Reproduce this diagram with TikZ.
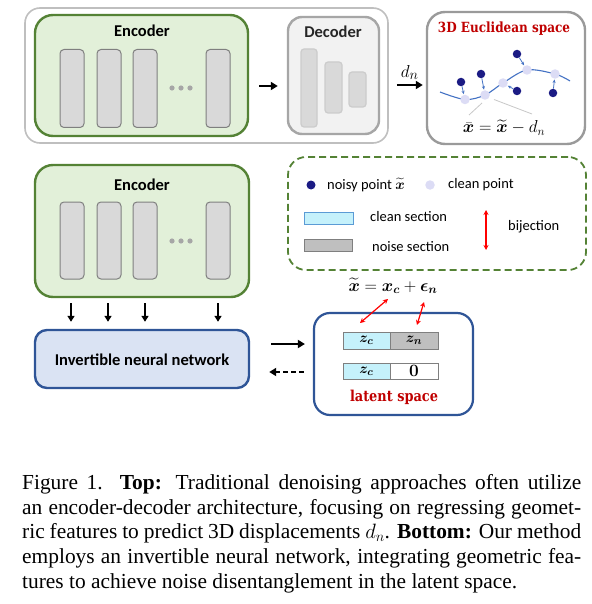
\documentclass[tikz,border=0pt]{standalone}
\usepackage{fontspec}
\usepackage{amsmath}
\usepackage{bm}
\setmainfont{Liberation Serif}
\newfontfamily\calib{Carlito}
\newfontfamily\slab{DejaVu Serif}[FakeStretch=0.86]
\usetikzlibrary{arrows.meta,calc}
\definecolor{encfill}{HTML}{E2F0D9}
\definecolor{encline}{HTML}{548235}
\definecolor{outergray}{HTML}{BFBFBF}
\definecolor{decfill}{HTML}{F2F2F2}
\definecolor{decline}{HTML}{A6A6A6}
\definecolor{euline}{HTML}{9A9A9A}
\definecolor{barfill}{HTML}{D9D9D9}
\definecolor{bargray}{HTML}{7F7F7F}
\definecolor{dbarline}{HTML}{CCCCCC}
\definecolor{dotgray}{HTML}{A6A6A6}
\definecolor{innfill}{HTML}{DAE3F3}
\definecolor{innline}{HTML}{2F5597}
\definecolor{titlered}{HTML}{C00000}
\definecolor{navy}{HTML}{1B1B84}
\definecolor{lavender}{HTML}{DCDCF5}
\definecolor{curveblue}{HTML}{4472C4}
\definecolor{cyancell}{HTML}{C5F1FB}
\definecolor{cyanline}{HTML}{5B9BD5}
\definecolor{graycell}{HTML}{BFBFBF}
\definecolor{calloutgray}{HTML}{C8C8C8}
\begin{document}
\begin{tikzpicture}[x=1pt,y=-1pt,
  outerbox/.style={draw=outergray, fill=white, line width=1.6pt, rounded corners=15pt, inner sep=0pt},
  encbox/.style={draw=encline, fill=encfill, line width=2.4pt, rounded corners=18pt, inner sep=0pt},
  decbox/.style={draw=decline, fill=decfill, line width=2.4pt, rounded corners=14pt, inner sep=0pt},
  eucbox/.style={draw=euline, fill=white, line width=2.4pt, rounded corners=18pt, inner sep=0pt},
  innbox/.style={draw=innline, fill=innfill, line width=2.4pt, rounded corners=12pt, inner sep=0pt},
  latbox/.style={draw=innline, fill=white, line width=2.2pt, rounded corners=16pt, inner sep=0pt},
  legbox/.style={draw=encline, dash pattern=on 7pt off 4pt, line width=1.8pt, rounded corners=18pt, inner sep=0pt},
  encbar/.style={draw=bargray, fill=barfill, line width=1pt, rounded corners=4pt, minimum width=24pt, minimum height=78pt, inner sep=0pt},
  dbar/.style={draw=dbarline, fill=barfill, line width=1.2pt, rounded corners=3pt, inner sep=0pt},
  edot/.style={circle, fill=dotgray, minimum size=5.2pt, inner sep=0pt},
  boxtitle/.style={font=\calib\bfseries\fontsize{16.5}{18}\selectfont, inner sep=0pt},
  slabtitle/.style={font=\slab\bfseries\fontsize{14}{16}\selectfont, text=titlered, inner sep=0pt},
  legtext/.style={font=\calib\fontsize{14.5}{16}\selectfont, anchor=west, inner sep=0pt},
  thickarr/.style={line width=2.2pt, -{Triangle[length=7pt,width=8pt]}},
  noisy/.style={circle, fill=navy, minimum size=8.5pt, inner sep=0pt},
  clean/.style={circle, fill=lavender, minimum size=9.5pt, inner sep=0pt},
  smallarr/.style={draw=curveblue, line width=0.8pt, -{Stealth[length=3.5pt,width=3pt]}, shorten >=0.5pt},
  redarr/.style={draw=red, line width=1.2pt, {Stealth[length=5pt,width=5pt]}-{Stealth[length=5pt,width=5pt]}},
  cellc/.style={draw=bargray, fill=cyancell, line width=1pt, minimum width=47pt, minimum height=17pt, inner sep=0pt},
  celln/.style={draw=bargray, fill=graycell, line width=1pt, minimum width=48pt, minimum height=17pt, inner sep=0pt},
  cellz/.style={draw=bargray, fill=white, line width=1pt, minimum width=48pt, minimum height=17pt, inner sep=0pt},
  mathlbl/.style={font=\fontsize{16.5}{18}\selectfont, inner sep=0pt}
]
\useasboundingbox (0,0) rectangle (591,604);

% ---------- TOP ----------
\node[outerbox, minimum width=363pt, minimum height=135pt] (outer) at (206.5,75.5) {};
\node[encbox, minimum width=213pt, minimum height=121pt] (enc1) at (141.5,75.5) {};
\node[boxtitle] (enc1t) at (142,31) {Encoder};
\node[encbar] (a1) at (72,88.5) {};
\node[encbar] (a2) at (109,88.5) {};
\node[encbar] (a3) at (145,88.5) {};
\node[encbar] (a4) at (218,88.5) {};
\node[edot] (ad1) at (172,88) {};
\node[edot] (ad2) at (181,88) {};
\node[edot] (ad3) at (190,88) {};

\node[decbox, minimum width=91pt, minimum height=117pt] (dec) at (333.5,75.5) {};
\node[boxtitle, text=black!85] (dect) at (333,32) {Decoder};
\node[dbar, minimum width=16pt, minimum height=78pt] (d1) at (309,88) {};
\node[dbar, minimum width=17pt, minimum height=51pt] (d2) at (333.5,87.5) {};
\node[dbar, minimum width=17pt, minimum height=35pt] (d3) at (357.5,89.5) {};

\draw[thickarr] ($(enc1.east)+(10,10.5)$) -- ($(dec.west)+(-9,10.5)$);

\node[eucbox, minimum width=158pt, minimum height=132pt] (euc) at (506,78) {};
\node[slabtitle] (euct) at (504,29) {3D Euclidean space};

\draw[thickarr] ($(outer.east)+(8,9.5)$) -- node[above=4pt, inner sep=0pt, font=\fontsize{19}{20}\selectfont] (dnl) {$d_n$} ($(euc.west)+(-3,7)$);

\draw[curveblue, line width=1.1pt] plot[smooth, tension=0.55] coordinates {(440,92) (465,99.5) (485,95) (503,83) (527,70) (555,74) (570,81)};

\coordinate (cl1a) at (469,115);
\coordinate (cl1b) at (482,103);
\coordinate (cl2a) at (494,99.5);
\coordinate (cl2b) at (532,114);
\draw[calloutgray, line width=0.8pt] (cl1a) -- (cl1b);
\draw[calloutgray, line width=0.8pt] (cl2a) -- (cl2b);

\node[clean] (c1) at (465,99.5) {};
\node[clean] (c2) at (485,95) {};
\node[clean] (c3) at (503,83) {};
\node[clean] (c4) at (527,70) {};
\node[clean] (c5) at (555,74) {};
\node[noisy] (n1) at (461,82) {};
\node[noisy] (n2) at (481,74) {};
\node[noisy] (n3) at (517,91) {};
\node[noisy] (n4) at (517,54) {};
\node[noisy] (n5) at (553,93) {};
\draw[smallarr] (n1) -- (c1);
\draw[smallarr] (n2) -- (c2);
\draw[smallarr] (n3) -- (c3);
\draw[smallarr] (n4) -- (c4);
\draw[smallarr] (n5) -- (c5);

\node[mathlbl] (eq1) at (504,127.5) {$\bar{\bm{x}} = \widetilde{\bm{x}} - d_n$};

% ---------- BOTTOM ----------
\node[encbox, minimum width=214pt, minimum height=132pt] (enc2) at (142,231) {};
\node[boxtitle] (enc2t) at (142,185) {Encoder};
\node[encbar, minimum height=77pt] (b1) at (72,240.5) {};
\node[encbar, minimum height=77pt] (b2) at (109,240.5) {};
\node[encbar, minimum height=77pt] (b3) at (145,240.5) {};
\node[encbar, minimum height=77pt] (b4) at (218,240.5) {};
\node[edot] (bd1) at (172,241) {};
\node[edot] (bd2) at (181,241) {};
\node[edot] (bd3) at (190,241) {};

\node[innbox, minimum width=214pt, minimum height=58pt] (inn) at (142,359) {};
\node[boxtitle] (innt) at (142,360) {Invertible neural network};

\draw[line width=2pt, -{Triangle[length=6pt,width=7pt]}] ($(enc2.south)+(-71,5)$) -- ($(inn.north)+(-71,-7)$);
\draw[line width=2pt, -{Triangle[length=6pt,width=7pt]}] ($(enc2.south)+(-34,5)$) -- ($(inn.north)+(-34,-7)$);
\draw[line width=2pt, -{Triangle[length=6pt,width=7pt]}] ($(enc2.south)+(3,5)$) -- ($(inn.north)+(3,-7)$);
\draw[line width=2pt, -{Triangle[length=6pt,width=7pt]}] ($(enc2.south)+(76,5)$) -- ($(inn.north)+(76,-7)$);

\node[latbox, minimum width=159pt, minimum height=102pt] (lat) at (393.5,364) {};
\draw[line width=2pt, -{Triangle[length=7pt,width=8pt]}] ($(inn.east)+(21,-15)$) -- ($(lat.west)+(-8,-20)$);
\draw[line width=2pt, dash pattern=on 5pt off 3pt, -{Triangle[length=7pt,width=8pt]}] ($(lat.west)+(-9,8)$) -- ($(inn.east)+(19,13)$);

\node[cellc] (zc1) at (366.5,340.5) {\fontsize{15}{16}\selectfont$\bm{z}_{\bm{c}}$};
\node[celln] (zn) at (414,340.5) {\fontsize{15}{16}\selectfont$\bm{z}_{\bm{n}}$};
\node[cellc, minimum height=16pt] (zc2) at (366.5,371) {\fontsize{15}{16}\selectfont$\bm{z}_{\bm{c}}$};
\node[cellz, minimum height=16pt] (zero) at (414,371) {\fontsize{16}{16}\selectfont$\bm{0}$};
\node[slabtitle, font=\slab\bfseries\fontsize{15}{17}\selectfont] (latt) at (394,397) {latent space};

\node[mathlbl, font=\fontsize{16.5}{18}\selectfont] (eq2) at (393,286) {$\widetilde{\bm{x}} = \bm{x}_{\bm{c}} + \bm{\epsilon}_{\bm{n}}$};
\coordinate (r1a) at (388,299);
\coordinate (r1b) at (360,323);
\coordinate (r2a) at (424,302);
\coordinate (r2b) at (417,325);
\draw[redarr] (r1a) -- (r1b);
\draw[redarr] (r2a) -- (r2b);

% ---------- LEGEND ----------
\node[legbox, minimum width=298pt, minimum height=113pt] (leg) at (437,213.5) {};
\node[noisy, minimum size=9pt] (lnoisy) at (311,185) {};
\node[legtext] (lnoisyt) at (327,185) {noisy point $\widetilde{\bm{x}}$};
\node[clean] (lclean) at (430,185) {};
\node[legtext] (lcleant) at (448,185) {clean point};
\node[draw=cyanline, fill=cyancell, line width=1pt, minimum width=49pt, minimum height=12pt, inner sep=0pt] (lcs) at (328.5,218) {};
\node[legtext] (lcst) at (370,217) {clean section};
\node[draw=bargray, fill=graycell, line width=1pt, minimum width=48pt, minimum height=12pt, inner sep=0pt] (lns) at (328,245) {};
\node[legtext] (lnst) at (372,246.5) {noise section};
\coordinate (lba) at (486,210);
\coordinate (lbb) at (486,250);
\draw[redarr, line width=1.5pt] (lba) -- (lbb);
\node[legtext] (lbt) at (508,227) {bijection};

% ---------- CAPTION ----------
\node[anchor=north west, inner sep=0pt, align=left, font=\fontsize{21.4}{24.8}\selectfont] (cap) at (22,474) {%
\makebox[559pt][s]{Figure 1.\ \ \textbf{Top:} Traditional denoising approaches often utilize}\\
\makebox[559pt][s]{an encoder-decoder architecture, focusing on regressing geomet-}\\
\makebox[559pt][s]{ric features to predict 3D displacements $d_n$. \textbf{Bottom:} Our method}\\
\makebox[559pt][s]{employs an invertible neural network, integrating geometric fea-}\\
tures to achieve noise disentanglement in the latent space.};
\end{tikzpicture}
\end{document}
